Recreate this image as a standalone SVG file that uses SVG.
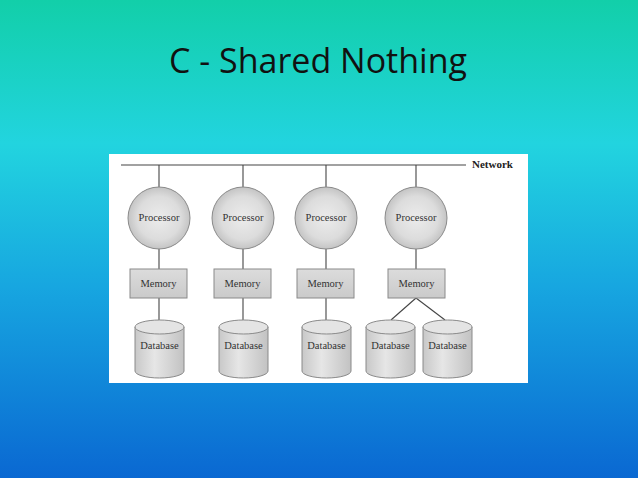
<svg xmlns="http://www.w3.org/2000/svg" width="638" height="478" viewBox="0 0 638 478">
<defs>
<linearGradient id="bg" x1="0" y1="0" x2="0" y2="1">
<stop offset="0" stop-color="#12cfa9"/>
<stop offset="0.3" stop-color="#22d4df"/>
<stop offset="0.6" stop-color="#17a6e0"/>
<stop offset="1" stop-color="#0a68d2"/>
</linearGradient>
<radialGradient id="proc" cx="0.5" cy="0.5" r="0.5">
<stop offset="0" stop-color="#ececec"/>
<stop offset="0.7" stop-color="#dcdcdc"/>
<stop offset="1" stop-color="#c4c4c4"/>
</radialGradient>
<linearGradient id="mem" x1="0" y1="0" x2="0" y2="1">
<stop offset="0" stop-color="#dcdcdc"/>
<stop offset="1" stop-color="#cacaca"/>
</linearGradient>
<linearGradient id="cyl" x1="0" y1="0" x2="1" y2="0">
<stop offset="0" stop-color="#c8c8c8"/>
<stop offset="0.4" stop-color="#e6e6e6"/>
<stop offset="1" stop-color="#c2c2c2"/>
</linearGradient>
</defs>
<style>
.ln{stroke:#444;stroke-width:1.1;fill:none}
.pc{fill:url(#proc);stroke:#8a8a8a;stroke-width:1}
.mb{fill:url(#mem);stroke:#8a8a8a;stroke-width:1}
.cy{fill:url(#cyl);stroke:#8a8a8a;stroke-width:1}
.ct{fill:#e4e4e4;stroke:#8a8a8a;stroke-width:1}
.lb{font-family:"Liberation Serif","DejaVu Serif",serif;font-size:10.5px;fill:#333;text-anchor:middle}
</style>
<rect width="638" height="478" fill="url(#bg)"/>
<text x="318" y="73" font-family="Open Sans, Liberation Sans, sans-serif" font-size="34" fill="#111" text-anchor="middle">C - Shared Nothing</text>
<rect x="109" y="154" width="419" height="229" fill="#fff"/>

<g id="connectors">
<line class="ln" x1="121" y1="165" x2="466" y2="165"/>
<line class="ln" x1="159" y1="165" x2="159" y2="187"/>
<line class="ln" x1="243" y1="165" x2="243" y2="187"/>
<line class="ln" x1="326" y1="165" x2="326" y2="187"/>
<line class="ln" x1="416" y1="165" x2="416" y2="187"/>
<line class="ln" x1="159" y1="249" x2="159" y2="269"/>
<line class="ln" x1="243" y1="249" x2="243" y2="269"/>
<line class="ln" x1="326" y1="249" x2="326" y2="269"/>
<line class="ln" x1="416" y1="249" x2="416" y2="269"/>
<line class="ln" x1="159" y1="298" x2="159" y2="320"/>
<line class="ln" x1="243" y1="298" x2="243" y2="320"/>
<line class="ln" x1="326" y1="298" x2="326" y2="320"/>
<line class="ln" x1="416" y1="298" x2="391" y2="320"/>
<line class="ln" x1="416" y1="298" x2="445" y2="320"/>
</g>
<text x="472" y="168" font-family="Liberation Serif, serif" font-size="11" font-weight="bold" fill="#222">Network</text>

<g id="proc1"><circle class="pc" cx="159" cy="218" r="31"/><text class="lb" x="159" y="221">Processor</text></g>
<g id="proc2"><circle class="pc" cx="243" cy="218" r="31"/><text class="lb" x="243" y="221">Processor</text></g>
<g id="proc3"><circle class="pc" cx="326" cy="218" r="31"/><text class="lb" x="326" y="221">Processor</text></g>
<g id="proc4"><circle class="pc" cx="416" cy="218" r="31"/><text class="lb" x="416" y="221">Processor</text></g>

<g id="mem1"><rect class="mb" x="130" y="269" width="57" height="29"/><text class="lb" x="158.5" y="287">Memory</text></g>
<g id="mem2"><rect class="mb" x="214" y="269" width="57" height="29"/><text class="lb" x="242.5" y="287">Memory</text></g>
<g id="mem3"><rect class="mb" x="297" y="269" width="57" height="29"/><text class="lb" x="325.5" y="287">Memory</text></g>
<g id="mem4"><rect class="mb" x="388" y="269" width="57" height="29"/><text class="lb" x="416.5" y="287">Memory</text></g>

<g id="db1"><path class="cy" d="M135,327 V371 A24.5,7 0 0 0 184,371 V327"/><ellipse class="ct" cx="159.5" cy="327" rx="24.5" ry="7"/><text class="lb" x="159.5" y="349">Database</text></g>
<g id="db2"><path class="cy" d="M219,327 V371 A24.5,7 0 0 0 268,371 V327"/><ellipse class="ct" cx="243.5" cy="327" rx="24.5" ry="7"/><text class="lb" x="243.5" y="349">Database</text></g>
<g id="db3"><path class="cy" d="M302,327 V371 A24.5,7 0 0 0 351,371 V327"/><ellipse class="ct" cx="326.5" cy="327" rx="24.5" ry="7"/><text class="lb" x="326.5" y="349">Database</text></g>
<g id="db4"><path class="cy" d="M366,327 V371 A24.5,7 0 0 0 415,371 V327"/><ellipse class="ct" cx="390.5" cy="327" rx="24.5" ry="7"/><text class="lb" x="390.5" y="349">Database</text></g>
<g id="db5"><path class="cy" d="M423,327 V371 A24.5,7 0 0 0 472,371 V327"/><ellipse class="ct" cx="447.5" cy="327" rx="24.5" ry="7"/><text class="lb" x="447.5" y="349">Database</text></g>
</svg>
